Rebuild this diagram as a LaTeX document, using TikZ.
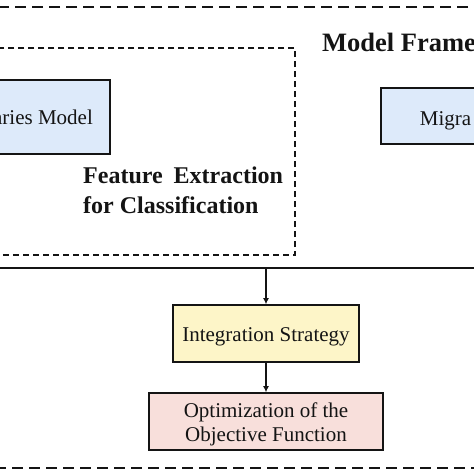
\documentclass[tikz,border=0pt]{standalone}
\usepackage{fontspec}
\setmainfont{Liberation Serif}
\usetikzlibrary{arrows.meta}
\definecolor{boxblue}{HTML}{DDEAFA}
\definecolor{boxyellow}{HTML}{FDF5C8}
\definecolor{boxpink}{HTML}{F8DFDB}
\definecolor{ink}{HTML}{141414}
\begin{document}
\begin{tikzpicture}[x=1pt,y=-1pt,
  box/.style={draw=ink, line width=1.6pt, inner sep=0pt, text=ink, font=\fontsize{21}{24}\selectfont},
  arr/.style={draw=ink, line width=1.3pt, -{Latex[length=6pt,width=6pt]}},
  framebox/.style={draw=ink, line width=1.4pt, dash pattern=on 11pt off 6pt},
  groupbox/.style={draw=ink, line width=1.4pt, dash pattern=on 6pt off 4pt},
  ttl/.style={font=\bfseries\fontsize{26.5}{30}\selectfont, text=ink, inner sep=0pt}
]
\useasboundingbox[fill=white] (0,0) rectangle (474,474);
\clip (0,0) rectangle (474,474);
\draw[framebox] (-20,7) rectangle (494,468);
\draw[groupbox] (-20,48) rectangle (295,255);
\coordinate (hl) at (-20,268);
\coordinate (hr) at (494,268);
\draw[ink, line width=1.4pt] (hl) -- (hr);
\coordinate (split) at (266,268);
\node[box, fill=boxblue, minimum width=134pt, minimum height=74pt, text height=14pt, text depth=0pt] (lm) at (43,117) {aries Model};
\node[box, fill=boxblue, minimum width=129pt, minimum height=56pt, text height=18pt, text depth=0pt] (rm) at (445.5,116) {Migra};
\node[ttl, anchor=base west] (mf) at (322,51) {Model Frame};
\node[anchor=base west, inner sep=0pt, text=ink, font=\bfseries\fontsize{24}{30}\selectfont] (fe) at (83,183) {\parbox[t]{220pt}{\raggedright Feature\hspace{11pt}Extraction\\ for Classification}};
\node[box, fill=boxyellow, minimum width=186pt, minimum height=57pt, text height=16pt, text depth=0pt] (is) at (266,333.5) {Integration Strategy};
\node[box, fill=boxpink, minimum width=234pt, minimum height=57pt, align=center] (of) at (266,421.5) {\rule{0pt}{20.5pt}Optimization of the\\Objective Function};
\draw[arr] (split) -- (is.north);
\draw[arr] (is) -- (of);
\end{tikzpicture}
\end{document}
